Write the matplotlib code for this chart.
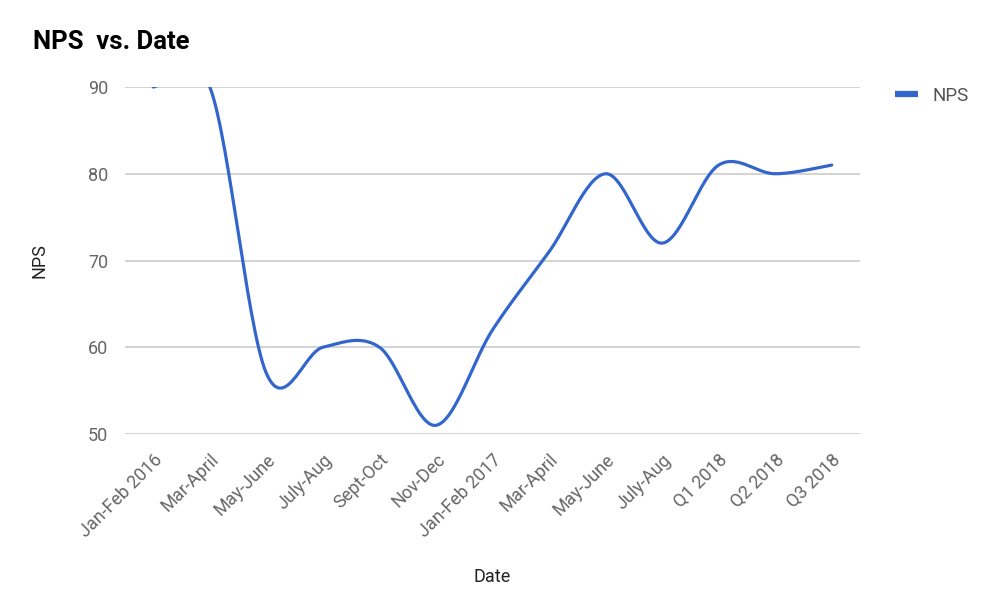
import numpy as np
import matplotlib
matplotlib.use("Agg")
import matplotlib.pyplot as plt

# -------------------------------
# Data
# -------------------------------
dates = ["Jan-Feb 2016", "Mar-April", "May-June", "July-Aug", "Sept-Oct",
         "Nov-Dec", "Jan-Feb 2017", "Mar-April", "May-June", "July-Aug",
         "Q1 2018", "Q2 2018", "Q3 2018"]
nps = [90, 90, 57, 60, 60, 51, 62, 71, 80, 72, 81, 80, 81]
y_ticks = [50, 60, 70, 80, 90]

LINE_COLOR = "#3366CC"
GRID_COLOR = "#CCCCCC"
TICK_COLOR = "#666666"

plt.rcParams["font.family"] = ["Roboto", "DejaVu Sans"]


# -------------------------------
# Smooth curve (Catmull-Rom, like the sheet's "smooth" line)
# -------------------------------
def smooth_curve(xs, ys, steps=30):
    xs = np.asarray(xs, dtype=float)
    ys = np.asarray(ys, dtype=float)
    px = np.concatenate([[xs[0]], xs, [xs[-1]]])
    py = np.concatenate([[ys[0]], ys, [ys[-1]]])
    out_x, out_y = [], []
    for i in range(1, len(px) - 2):
        t = np.linspace(0, 1, steps, endpoint=False)
        t2, t3 = t * t, t * t * t
        for arr, out in ((px, out_x), (py, out_y)):
            p0, p1, p2, p3 = arr[i - 1], arr[i], arr[i + 1], arr[i + 2]
            out.extend(0.5 * ((2 * p1) + (-p0 + p2) * t
                              + (2 * p0 - 5 * p1 + 4 * p2 - p3) * t2
                              + (-p0 + 3 * p1 - 3 * p2 + p3) * t3))
    out_x.append(xs[-1])
    out_y.append(ys[-1])
    return np.array(out_x), np.array(out_y)


fig = plt.figure(figsize=(10, 6.15), dpi=100)
ax = fig.add_axes([0.125, 1 - 434 / 615, 0.735, (434 - 87) / 615])

x = np.arange(len(dates))
sx, sy = smooth_curve(x, nps)
line, = ax.plot(sx, sy, color=LINE_COLOR, linewidth=2.3, label="NPS",
                solid_capstyle="round")

ax.set_xlim(-0.5, len(dates) - 0.5)
ax.set_ylim(50, 90)
ax.set_yticks(y_ticks)
ax.set_xticks(x)
ax.set_xticklabels(dates, rotation=45, ha="right", rotation_mode="anchor")

for spine in ax.spines.values():
    spine.set_visible(False)
ax.grid(axis="y", color=GRID_COLOR, linewidth=1.2)
ax.set_axisbelow(True)
ax.tick_params(axis="both", length=0, colors=TICK_COLOR)
ax.tick_params(axis="y", labelsize=13, pad=12)
ax.tick_params(axis="x", labelsize=13, pad=12)

ax.set_xlabel("Date", fontsize=13, color="#222222")
ax.set_ylabel("NPS", fontsize=13, color="#222222")
ax.xaxis.set_label_coords(0.5, (434 - 577) / 347)
ax.yaxis.set_label_coords((40 - 125) / 735, 0.5)
ax.xaxis.label.set_va("center")
ax.yaxis.label.set_va("center")

fig.text(0.033, 1 - 42 / 615, "NPS  vs. Date", fontsize=18.5, fontweight="bold",
         color="#000000", va="center", ha="left")

leg = ax.legend(handles=[line], loc="upper left", bbox_to_anchor=(1.025, 1.05),
                frameon=False, fontsize=13.5, handlelength=1.2, handletextpad=0.8,
                labelcolor="#555555")
leg.get_lines()[0].set_linewidth(4.5)
leg.get_lines()[0].set_solid_capstyle("butt")

fig.savefig("out.png", dpi=100)
